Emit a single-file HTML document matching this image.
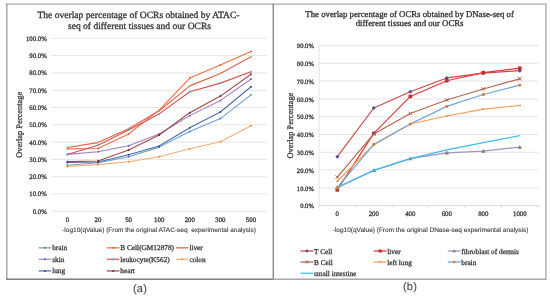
<!DOCTYPE html><html><head><meta charset="utf-8"><style>html,body{margin:0;padding:0;background:#fff;}svg{display:block;filter:blur(0.35px);} text{stroke:#404040;stroke-width:0.32px;text-rendering:geometricPrecision;}</style></head><body>
<svg width="550" height="299" viewBox="0 0 550 299">
<rect width="550" height="299" fill="#fff"/>
<line x1="6" y1="4.1" x2="546.6" y2="4.1" stroke="#aaaaaa" stroke-width="1.4"/>
<line x1="6.8" y1="3.4" x2="6.8" y2="280" stroke="#a4a4a4" stroke-width="1.4"/>
<line x1="6.1" y1="279.3" x2="274" y2="279.3" stroke="#7c7c7c" stroke-width="1.4"/>
<line x1="273.3" y1="3.4" x2="273.3" y2="280" stroke="#8e8e8e" stroke-width="1.5"/>
<line x1="273" y1="279.2" x2="546.6" y2="279.2" stroke="#a8a8a8" stroke-width="1.4"/>
<line x1="545.9" y1="3.4" x2="545.9" y2="279.9" stroke="#ababab" stroke-width="1.4"/>
<g style="font-family:'Liberation Serif',serif" fill="#404040">
<text x="138.5" y="18.1" font-size="9.55" text-anchor="middle" fill="#333" style="stroke:#333;stroke-width:0.3px">The overlap percentage of OCRs obtained by ATAC-</text>
<text x="139.5" y="28.6" font-size="9.55" text-anchor="middle" fill="#333" style="stroke:#333;stroke-width:0.3px">seq of different tissues and our OCRs</text>
<line x1="51.5" y1="211.30" x2="266.8" y2="211.30" stroke="#dedede" stroke-width="0.8"/>
<text x="46.8" y="213.75" font-size="6.75" text-anchor="end">0.0%</text>
<line x1="51.5" y1="194.00" x2="266.8" y2="194.00" stroke="#dedede" stroke-width="0.8"/>
<text x="46.8" y="196.45" font-size="6.75" text-anchor="end">10.0%</text>
<line x1="51.5" y1="176.70" x2="266.8" y2="176.70" stroke="#dedede" stroke-width="0.8"/>
<text x="46.8" y="179.15" font-size="6.75" text-anchor="end">20.0%</text>
<line x1="51.5" y1="159.40" x2="266.8" y2="159.40" stroke="#dedede" stroke-width="0.8"/>
<text x="46.8" y="161.85" font-size="6.75" text-anchor="end">30.0%</text>
<line x1="51.5" y1="142.10" x2="266.8" y2="142.10" stroke="#dedede" stroke-width="0.8"/>
<text x="46.8" y="144.55" font-size="6.75" text-anchor="end">40.0%</text>
<line x1="51.5" y1="124.80" x2="266.8" y2="124.80" stroke="#dedede" stroke-width="0.8"/>
<text x="46.8" y="127.25" font-size="6.75" text-anchor="end">50.0%</text>
<line x1="51.5" y1="107.50" x2="266.8" y2="107.50" stroke="#dedede" stroke-width="0.8"/>
<text x="46.8" y="109.95" font-size="6.75" text-anchor="end">60.0%</text>
<line x1="51.5" y1="90.20" x2="266.8" y2="90.20" stroke="#dedede" stroke-width="0.8"/>
<text x="46.8" y="92.65" font-size="6.75" text-anchor="end">70.0%</text>
<line x1="51.5" y1="72.90" x2="266.8" y2="72.90" stroke="#dedede" stroke-width="0.8"/>
<text x="46.8" y="75.35" font-size="6.75" text-anchor="end">80.0%</text>
<line x1="51.5" y1="55.60" x2="266.8" y2="55.60" stroke="#dedede" stroke-width="0.8"/>
<text x="46.8" y="58.05" font-size="6.75" text-anchor="end">90.0%</text>
<line x1="51.5" y1="38.30" x2="266.8" y2="38.30" stroke="#dedede" stroke-width="0.8"/>
<text x="46.8" y="40.75" font-size="6.75" text-anchor="end">100.0%</text>
<text x="67.40" y="221.6" font-size="6.85" text-anchor="middle">0</text>
<text x="98.00" y="221.6" font-size="6.85" text-anchor="middle">20</text>
<text x="128.60" y="221.6" font-size="6.85" text-anchor="middle">50</text>
<text x="159.20" y="221.6" font-size="6.85" text-anchor="middle">100</text>
<text x="189.80" y="221.6" font-size="6.85" text-anchor="middle">200</text>
<text x="220.40" y="221.6" font-size="6.85" text-anchor="middle">300</text>
<text x="251.00" y="221.6" font-size="6.85" text-anchor="middle">500</text>
<text transform="translate(22.3,124.8) rotate(-90)" font-size="8.4" text-anchor="middle">Overlap Percentage</text>
</g>
<text x="159" y="232.2" font-size="6.5" text-anchor="middle" style="font-family:'Liberation Sans',sans-serif;stroke:#404040;stroke-width:0.12px" fill="#404040" xml:space="preserve">-log10(qValue) (From the original ATAC-seq  experimental analysis)</text>
<polyline points="67.40,165.28 98.00,162.69 128.60,156.81 159.20,147.12 189.80,131.55 220.40,118.57 251.00,94.87" fill="none" stroke="#6E9FD6" stroke-width="1.1" stroke-linejoin="round"/>
<circle cx="67.40" cy="165.28" r="0.95" fill="#4F81BD"/>
<circle cx="98.00" cy="162.69" r="0.95" fill="#4F81BD"/>
<circle cx="128.60" cy="156.81" r="0.95" fill="#4F81BD"/>
<circle cx="159.20" cy="147.12" r="0.95" fill="#4F81BD"/>
<circle cx="189.80" cy="131.55" r="0.95" fill="#4F81BD"/>
<circle cx="220.40" cy="118.57" r="0.95" fill="#4F81BD"/>
<circle cx="251.00" cy="94.87" r="0.95" fill="#4F81BD"/>
<polyline points="67.40,148.85 98.00,148.50 128.60,133.97 159.20,110.10 189.80,78.09 220.40,64.94 251.00,51.45" fill="none" stroke="#F26E45" stroke-width="1.1" stroke-linejoin="round"/>
<circle cx="67.40" cy="148.85" r="0.95" fill="#E35E3E"/>
<circle cx="98.00" cy="148.50" r="0.95" fill="#E35E3E"/>
<circle cx="128.60" cy="133.97" r="0.95" fill="#E35E3E"/>
<circle cx="159.20" cy="110.10" r="0.95" fill="#E35E3E"/>
<circle cx="189.80" cy="78.09" r="0.95" fill="#E35E3E"/>
<circle cx="220.40" cy="64.94" r="0.95" fill="#E35E3E"/>
<circle cx="251.00" cy="51.45" r="0.95" fill="#E35E3E"/>
<polyline points="67.40,147.46 98.00,142.62 128.60,128.78 159.20,110.79 189.80,85.88 220.40,73.42 251.00,56.81" fill="none" stroke="#E4604C" stroke-width="1.1" stroke-linejoin="round"/>
<circle cx="67.40" cy="147.46" r="0.95" fill="#9BBB59"/>
<circle cx="98.00" cy="142.62" r="0.95" fill="#9BBB59"/>
<circle cx="128.60" cy="128.78" r="0.95" fill="#9BBB59"/>
<circle cx="159.20" cy="110.79" r="0.95" fill="#9BBB59"/>
<circle cx="189.80" cy="85.88" r="0.95" fill="#9BBB59"/>
<circle cx="220.40" cy="73.42" r="0.95" fill="#9BBB59"/>
<circle cx="251.00" cy="56.81" r="0.95" fill="#9BBB59"/>
<polyline points="67.40,154.38 98.00,151.79 128.60,145.73 159.20,133.97 189.80,115.63 220.40,100.58 251.00,78.96" fill="none" stroke="#9C82C8" stroke-width="1.1" stroke-linejoin="round"/>
<circle cx="67.40" cy="154.38" r="0.95" fill="#7A5FA8"/>
<circle cx="98.00" cy="151.79" r="0.95" fill="#7A5FA8"/>
<circle cx="128.60" cy="145.73" r="0.95" fill="#7A5FA8"/>
<circle cx="159.20" cy="133.97" r="0.95" fill="#7A5FA8"/>
<circle cx="189.80" cy="115.63" r="0.95" fill="#7A5FA8"/>
<circle cx="220.40" cy="100.58" r="0.95" fill="#7A5FA8"/>
<circle cx="251.00" cy="78.96" r="0.95" fill="#7A5FA8"/>
<polyline points="67.40,154.56 98.00,145.21 128.60,129.99 159.20,113.90 189.80,91.76 220.40,83.11 251.00,71.69" fill="none" stroke="#D8504C" stroke-width="1.1" stroke-linejoin="round"/>
<circle cx="67.40" cy="154.56" r="0.95" fill="#4BACC6"/>
<circle cx="98.00" cy="145.21" r="0.95" fill="#4BACC6"/>
<circle cx="128.60" cy="129.99" r="0.95" fill="#4BACC6"/>
<circle cx="159.20" cy="113.90" r="0.95" fill="#4BACC6"/>
<circle cx="189.80" cy="91.76" r="0.95" fill="#4BACC6"/>
<circle cx="220.40" cy="83.11" r="0.95" fill="#4BACC6"/>
<circle cx="251.00" cy="71.69" r="0.95" fill="#4BACC6"/>
<polyline points="67.40,166.49 98.00,164.59 128.60,161.82 159.20,156.81 189.80,148.67 220.40,141.75 251.00,125.67" fill="none" stroke="#F7AE72" stroke-width="1.1" stroke-linejoin="round"/>
<circle cx="67.40" cy="166.49" r="0.95" fill="#F08A3A"/>
<circle cx="98.00" cy="164.59" r="0.95" fill="#F08A3A"/>
<circle cx="128.60" cy="161.82" r="0.95" fill="#F08A3A"/>
<circle cx="159.20" cy="156.81" r="0.95" fill="#F08A3A"/>
<circle cx="189.80" cy="148.67" r="0.95" fill="#F08A3A"/>
<circle cx="220.40" cy="141.75" r="0.95" fill="#F08A3A"/>
<circle cx="251.00" cy="125.67" r="0.95" fill="#F08A3A"/>
<polyline points="67.40,162.51 98.00,162.00 128.60,154.73 159.20,146.08 189.80,127.74 220.40,112.00 251.00,86.74" fill="none" stroke="#4A6FA8" stroke-width="1.1" stroke-linejoin="round"/>
<circle cx="67.40" cy="162.51" r="0.95" fill="#2C4D75"/>
<circle cx="98.00" cy="162.00" r="0.95" fill="#2C4D75"/>
<circle cx="128.60" cy="154.73" r="0.95" fill="#2C4D75"/>
<circle cx="159.20" cy="146.08" r="0.95" fill="#2C4D75"/>
<circle cx="189.80" cy="127.74" r="0.95" fill="#2C4D75"/>
<circle cx="220.40" cy="112.00" r="0.95" fill="#2C4D75"/>
<circle cx="251.00" cy="86.74" r="0.95" fill="#2C4D75"/>
<polyline points="67.40,161.65 98.00,160.96 128.60,150.06 159.20,135.01 189.80,112.69 220.40,96.08 251.00,74.28" fill="none" stroke="#9E4A48" stroke-width="1.1" stroke-linejoin="round"/>
<circle cx="67.40" cy="161.65" r="0.95" fill="#6B2A28"/>
<circle cx="98.00" cy="160.96" r="0.95" fill="#6B2A28"/>
<circle cx="128.60" cy="150.06" r="0.95" fill="#6B2A28"/>
<circle cx="159.20" cy="135.01" r="0.95" fill="#6B2A28"/>
<circle cx="189.80" cy="112.69" r="0.95" fill="#6B2A28"/>
<circle cx="220.40" cy="96.08" r="0.95" fill="#6B2A28"/>
<circle cx="251.00" cy="74.28" r="0.95" fill="#6B2A28"/>
<line x1="38.7" y1="247.8" x2="51.300000000000004" y2="247.8" stroke="#6E9FD6" stroke-width="1.55" stroke-opacity="0.8"/>
<circle cx="45.0" cy="247.8" r="1.0" fill="#4F81BD"/>
<text x="52.2" y="250.10000000000002" font-size="7.3" style="font-family:'Liberation Serif',serif" fill="#404040">brain</text>
<line x1="106.8" y1="247.8" x2="119.39999999999999" y2="247.8" stroke="#F26E45" stroke-width="1.55" stroke-opacity="0.8"/>
<circle cx="113.1" cy="247.8" r="1.0" fill="#E35E3E"/>
<text x="120.3" y="250.10000000000002" font-size="7.3" style="font-family:'Liberation Serif',serif" fill="#404040">B Cell(GM12878)</text>
<line x1="175.9" y1="247.8" x2="188.5" y2="247.8" stroke="#E4604C" stroke-width="1.55" stroke-opacity="0.8"/>
<circle cx="182.20000000000002" cy="247.8" r="1.0" fill="#9BBB59"/>
<text x="189.4" y="250.10000000000002" font-size="7.3" style="font-family:'Liberation Serif',serif" fill="#404040">liver</text>
<line x1="38.7" y1="259.3" x2="51.300000000000004" y2="259.3" stroke="#9C82C8" stroke-width="1.55" stroke-opacity="0.8"/>
<circle cx="45.0" cy="259.3" r="1.0" fill="#7A5FA8"/>
<text x="52.2" y="261.6" font-size="7.3" style="font-family:'Liberation Serif',serif" fill="#404040">skin</text>
<line x1="106.8" y1="259.3" x2="119.39999999999999" y2="259.3" stroke="#D8504C" stroke-width="1.55" stroke-opacity="0.8"/>
<circle cx="113.1" cy="259.3" r="1.0" fill="#4BACC6"/>
<text x="120.3" y="261.6" font-size="7.3" style="font-family:'Liberation Serif',serif" fill="#404040">leukocyte(K562)</text>
<line x1="175.9" y1="259.3" x2="188.5" y2="259.3" stroke="#F7AE72" stroke-width="1.55" stroke-opacity="0.8"/>
<circle cx="182.20000000000002" cy="259.3" r="1.0" fill="#F08A3A"/>
<text x="189.4" y="261.6" font-size="7.3" style="font-family:'Liberation Serif',serif" fill="#404040">colon</text>
<line x1="38.7" y1="270.9" x2="51.300000000000004" y2="270.9" stroke="#4A6FA8" stroke-width="1.55" stroke-opacity="0.8"/>
<circle cx="45.0" cy="270.9" r="1.0" fill="#2C4D75"/>
<text x="52.2" y="273.2" font-size="7.3" style="font-family:'Liberation Serif',serif" fill="#404040">lung</text>
<line x1="106.8" y1="270.9" x2="119.39999999999999" y2="270.9" stroke="#9E4A48" stroke-width="1.55" stroke-opacity="0.8"/>
<circle cx="113.1" cy="270.9" r="1.0" fill="#6B2A28"/>
<text x="120.3" y="273.2" font-size="7.3" style="font-family:'Liberation Serif',serif" fill="#404040">heart</text>
<g style="font-family:'Liberation Serif',serif" fill="#404040">
<text x="409.6" y="16.5" font-size="8.75" text-anchor="middle" fill="#333" style="stroke:#333;stroke-width:0.3px">The overlap percentage of OCRs obtained by DNase-seq of</text>
<text x="409.6" y="26.2" font-size="8.75" text-anchor="middle" fill="#333" style="stroke:#333;stroke-width:0.3px">different tissues and our OCRs</text>
<text x="313.9" y="208.30" font-size="6.6" text-anchor="end">0.0%</text>
<line x1="319.1" y1="187.82" x2="538.2" y2="187.82" stroke="#dedede" stroke-width="0.8"/>
<text x="313.9" y="190.52" font-size="6.6" text-anchor="end">10.0%</text>
<line x1="319.1" y1="170.04" x2="538.2" y2="170.04" stroke="#dedede" stroke-width="0.8"/>
<text x="313.9" y="172.74" font-size="6.6" text-anchor="end">20.0%</text>
<line x1="319.1" y1="152.26" x2="538.2" y2="152.26" stroke="#dedede" stroke-width="0.8"/>
<text x="313.9" y="154.96" font-size="6.6" text-anchor="end">30.0%</text>
<line x1="319.1" y1="134.48" x2="538.2" y2="134.48" stroke="#dedede" stroke-width="0.8"/>
<text x="313.9" y="137.18" font-size="6.6" text-anchor="end">40.0%</text>
<line x1="319.1" y1="116.70" x2="538.2" y2="116.70" stroke="#dedede" stroke-width="0.8"/>
<text x="313.9" y="119.40" font-size="6.6" text-anchor="end">50.0%</text>
<line x1="319.1" y1="98.92" x2="538.2" y2="98.92" stroke="#dedede" stroke-width="0.8"/>
<text x="313.9" y="101.62" font-size="6.6" text-anchor="end">60.0%</text>
<line x1="319.1" y1="81.14" x2="538.2" y2="81.14" stroke="#dedede" stroke-width="0.8"/>
<text x="313.9" y="83.84" font-size="6.6" text-anchor="end">70.0%</text>
<line x1="319.1" y1="63.36" x2="538.2" y2="63.36" stroke="#dedede" stroke-width="0.8"/>
<text x="313.9" y="66.06" font-size="6.6" text-anchor="end">80.0%</text>
<line x1="319.1" y1="45.58" x2="538.2" y2="45.58" stroke="#dedede" stroke-width="0.8"/>
<text x="313.9" y="48.28" font-size="6.6" text-anchor="end">90.0%</text>
<line x1="319.1" y1="45.58" x2="319.1" y2="205.60" stroke="#dedede" stroke-width="0.8"/>
<line x1="319.1" y1="205.60" x2="538.2" y2="205.60" stroke="#d0d0d0" stroke-width="0.8"/>
<line x1="319.05" y1="205.60" x2="319.05" y2="207.80" stroke="#d0d0d0" stroke-width="0.8"/>
<line x1="355.55" y1="205.60" x2="355.55" y2="207.80" stroke="#d0d0d0" stroke-width="0.8"/>
<line x1="392.05" y1="205.60" x2="392.05" y2="207.80" stroke="#d0d0d0" stroke-width="0.8"/>
<line x1="428.55" y1="205.60" x2="428.55" y2="207.80" stroke="#d0d0d0" stroke-width="0.8"/>
<line x1="465.05" y1="205.60" x2="465.05" y2="207.80" stroke="#d0d0d0" stroke-width="0.8"/>
<line x1="501.55" y1="205.60" x2="501.55" y2="207.80" stroke="#d0d0d0" stroke-width="0.8"/>
<line x1="538.05" y1="205.60" x2="538.05" y2="207.80" stroke="#d0d0d0" stroke-width="0.8"/>
<text x="337.30" y="216" font-size="6.85" text-anchor="middle">0</text>
<text x="373.80" y="216" font-size="6.85" text-anchor="middle">200</text>
<text x="410.30" y="216" font-size="6.85" text-anchor="middle">400</text>
<text x="446.80" y="216" font-size="6.85" text-anchor="middle">600</text>
<text x="483.30" y="216" font-size="6.85" text-anchor="middle">800</text>
<text x="519.80" y="216" font-size="6.85" text-anchor="middle">1000</text>
<text transform="translate(293.1,125.6) rotate(-90)" font-size="8.4" text-anchor="middle">Overlap Percentage</text>
</g>
<text x="430.6" y="232.2" font-size="6.5" text-anchor="middle" style="font-family:'Liberation Sans',sans-serif;stroke:#404040;stroke-width:0.12px" fill="#404040">-log10(qValue) (From the original DNase-seq experimental analysis)</text>
<polyline points="337.30,156.70 373.80,107.99 410.30,91.81 446.80,77.94 483.30,73.14 519.80,70.65" fill="none" stroke="#D04848" stroke-width="1.2" stroke-linejoin="round"/>
<path d="M337.30,154.70 L339.30,156.70 L337.30,158.70 L335.30,156.70Z" fill="#4B4A8C"/>
<path d="M373.80,105.99 L375.80,107.99 L373.80,109.99 L371.80,107.99Z" fill="#4B4A8C"/>
<path d="M410.30,89.81 L412.30,91.81 L410.30,93.81 L408.30,91.81Z" fill="#4B4A8C"/>
<path d="M446.80,75.94 L448.80,77.94 L446.80,79.94 L444.80,77.94Z" fill="#4B4A8C"/>
<path d="M483.30,71.14 L485.30,73.14 L483.30,75.14 L481.30,73.14Z" fill="#4B4A8C"/>
<path d="M519.80,68.65 L521.80,70.65 L519.80,72.65 L517.80,70.65Z" fill="#4B4A8C"/>
<polyline points="337.30,189.95 373.80,133.41 410.30,96.43 446.80,80.78 483.30,72.61 519.80,68.16" fill="none" stroke="#E8363A" stroke-width="1.2" stroke-linejoin="round"/>
<rect x="335.50" y="188.15" width="3.60" height="3.60" fill="#C0302F"/>
<rect x="372.00" y="131.61" width="3.60" height="3.60" fill="#C0302F"/>
<rect x="408.50" y="94.63" width="3.60" height="3.60" fill="#C0302F"/>
<rect x="445.00" y="78.98" width="3.60" height="3.60" fill="#C0302F"/>
<rect x="481.50" y="70.81" width="3.60" height="3.60" fill="#C0302F"/>
<rect x="518.00" y="66.36" width="3.60" height="3.60" fill="#C0302F"/>
<polyline points="337.30,187.82 373.80,170.40 410.30,158.66 446.80,152.79 483.30,151.19 519.80,147.10" fill="none" stroke="#A093C6" stroke-width="1.2" stroke-linejoin="round"/>
<path d="M337.30,185.62 L339.50,189.42 L335.10,189.42Z" fill="#7F7F66"/>
<path d="M373.80,168.20 L376.00,172.00 L371.60,172.00Z" fill="#7F7F66"/>
<path d="M410.30,156.46 L412.50,160.26 L408.10,160.26Z" fill="#7F7F66"/>
<path d="M446.80,150.59 L449.00,154.39 L444.60,154.39Z" fill="#7F7F66"/>
<path d="M483.30,148.99 L485.50,152.79 L481.10,152.79Z" fill="#7F7F66"/>
<path d="M519.80,144.90 L522.00,148.70 L517.60,148.70Z" fill="#7F7F66"/>
<polyline points="337.30,177.15 373.80,133.95 410.30,113.50 446.80,99.99 483.30,88.96 519.80,78.83" fill="none" stroke="#B06850" stroke-width="1.2" stroke-linejoin="round"/>
<path d="M335.50,175.35 L339.10,178.95 M339.10,175.35 L335.50,178.95" stroke="#A05840" stroke-width="0.9"/>
<path d="M372.00,132.15 L375.60,135.75 M375.60,132.15 L372.00,135.75" stroke="#A05840" stroke-width="0.9"/>
<path d="M408.50,111.70 L412.10,115.30 M412.10,111.70 L408.50,115.30" stroke="#A05840" stroke-width="0.9"/>
<path d="M445.00,98.19 L448.60,101.79 M448.60,98.19 L445.00,101.79" stroke="#A05840" stroke-width="0.9"/>
<path d="M481.50,87.16 L485.10,90.76 M485.10,87.16 L481.50,90.76" stroke="#A05840" stroke-width="0.9"/>
<path d="M518.00,77.03 L521.60,80.63 M521.60,77.03 L518.00,80.63" stroke="#A05840" stroke-width="0.9"/>
<polyline points="337.30,181.24 373.80,144.61 410.30,123.99 446.80,115.99 483.30,109.05 519.80,105.50" fill="none" stroke="#F5A050" stroke-width="1.2" stroke-linejoin="round"/>
<path d="M336.10,181.24 L338.50,181.24" stroke="#E89040" stroke-width="1.3"/>
<path d="M372.60,144.61 L375.00,144.61" stroke="#E89040" stroke-width="1.3"/>
<path d="M409.10,123.99 L411.50,123.99" stroke="#E89040" stroke-width="1.3"/>
<path d="M445.60,115.99 L448.00,115.99" stroke="#E89040" stroke-width="1.3"/>
<path d="M482.10,109.05 L484.50,109.05" stroke="#E89040" stroke-width="1.3"/>
<path d="M518.60,105.50 L521.00,105.50" stroke="#E89040" stroke-width="1.3"/>
<polyline points="337.30,187.29 373.80,144.44 410.30,123.99 446.80,106.39 483.30,94.47 519.80,85.05" fill="none" stroke="#6FA3DC" stroke-width="1.2" stroke-linejoin="round"/>
<circle cx="337.30" cy="187.29" r="1.60" fill="#D98040"/>
<circle cx="373.80" cy="144.44" r="1.60" fill="#D98040"/>
<circle cx="410.30" cy="123.99" r="1.60" fill="#D98040"/>
<circle cx="446.80" cy="106.39" r="1.60" fill="#D98040"/>
<circle cx="483.30" cy="94.47" r="1.60" fill="#D98040"/>
<circle cx="519.80" cy="85.05" r="1.60" fill="#D98040"/>
<polyline points="337.30,187.29 373.80,170.40 410.30,158.66 446.80,149.95 483.30,142.66 519.80,135.55" fill="none" stroke="#3FBDE8" stroke-width="1.2" stroke-linejoin="round"/>






<line x1="300.5" y1="251.0" x2="313.3" y2="251.0" stroke="#D04848" stroke-width="1.5" stroke-opacity="0.85"/>
<path d="M306.90,249.30 L308.60,251.00 L306.90,252.70 L305.20,251.00Z" fill="#4B4A8C"/>
<text x="314.0" y="253.6" font-size="7.3" style="font-family:'Liberation Serif',serif" fill="#404040">T Cell</text>
<line x1="373.8" y1="251.0" x2="386.6" y2="251.0" stroke="#E8363A" stroke-width="1.5" stroke-opacity="0.85"/>
<rect x="378.67" y="249.47" width="3.06" height="3.06" fill="#C0302F"/>
<text x="387.3" y="253.6" font-size="7.3" style="font-family:'Liberation Serif',serif" fill="#404040">liver</text>
<line x1="447.8" y1="251.0" x2="460.6" y2="251.0" stroke="#A093C6" stroke-width="1.5" stroke-opacity="0.85"/>
<path d="M454.20,249.13 L456.07,252.36 L452.33,252.36Z" fill="#7F7F66"/>
<text x="461.3" y="253.6" font-size="7.3" style="font-family:'Liberation Serif',serif" fill="#404040">fibroblast of dermis</text>
<line x1="300.5" y1="262.0" x2="313.3" y2="262.0" stroke="#B06850" stroke-width="1.5" stroke-opacity="0.85"/>
<path d="M305.37,260.47 L308.43,263.53 M308.43,260.47 L305.37,263.53" stroke="#A05840" stroke-width="0.9"/>
<text x="314.0" y="264.6" font-size="7.3" style="font-family:'Liberation Serif',serif" fill="#404040">B Cell</text>
<line x1="373.8" y1="262.0" x2="386.6" y2="262.0" stroke="#F5A050" stroke-width="1.5" stroke-opacity="0.85"/>
<path d="M379.18,262.00 L381.22,262.00" stroke="#E89040" stroke-width="1.3"/>
<text x="387.3" y="264.6" font-size="7.3" style="font-family:'Liberation Serif',serif" fill="#404040">left lung</text>
<line x1="447.8" y1="262.0" x2="460.6" y2="262.0" stroke="#6FA3DC" stroke-width="1.5" stroke-opacity="0.85"/>
<circle cx="454.20" cy="262.00" r="1.36" fill="#D98040"/>
<text x="461.3" y="264.6" font-size="7.3" style="font-family:'Liberation Serif',serif" fill="#404040">brain</text>
<line x1="300.5" y1="273.3" x2="313.3" y2="273.3" stroke="#3FBDE8" stroke-width="1.5" stroke-opacity="0.85"/>

<text x="314.0" y="275.90000000000003" font-size="7.3" style="font-family:'Liberation Serif',serif" fill="#404040">small intestine</text>
<text x="140" y="291.8" font-size="11" text-anchor="middle" style="font-family:'Liberation Sans',sans-serif;stroke:#505050;stroke-width:0.15px" fill="#505050" letter-spacing="0.2">(a)</text>
<text x="410" y="290.4" font-size="11" text-anchor="middle" style="font-family:'Liberation Sans',sans-serif;stroke:#505050;stroke-width:0.15px" fill="#505050" letter-spacing="0.2">(b)</text>
</svg></body></html>
